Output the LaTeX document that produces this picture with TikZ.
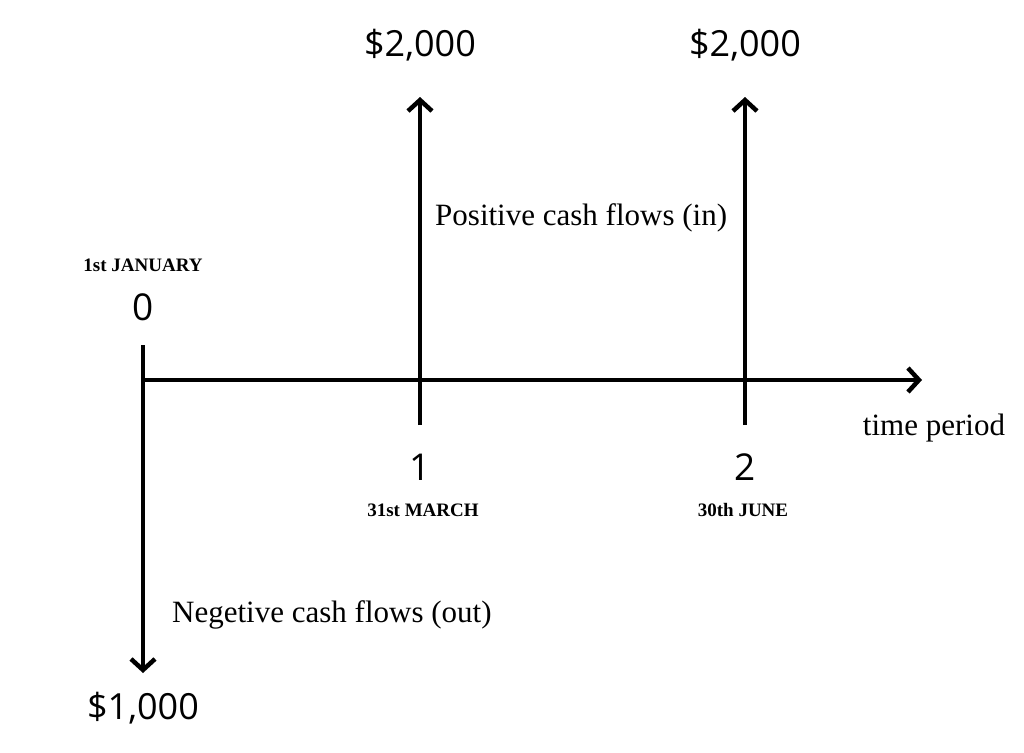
\documentclass[tikz,border=0pt]{standalone}
\usepackage{fontspec}
\setmainfont{Liberation Serif}
\newfontfamily\numfont{Open Sans}
\usetikzlibrary{arrows.meta}
\begin{document}
\begin{tikzpicture}[x=1pt,y=-1pt,
  flow/.style={line width=4.5pt,-{Straight Barb[length=11pt,width=24pt,line width=4.5pt]}},
  amount/.style={font=\numfont\fontsize{36}{40}\selectfont},
  period/.style={font=\numfont\fontsize{37}{40}\selectfont},
  datelbl/.style={font=\bfseries\fontsize{19}{22}\selectfont},
  note/.style={font=\fontsize{31}{34}\selectfont}]
\useasboundingbox (0,0) rectangle (1024,752);
%%
\coordinate (t0top) at (143,345);
\coordinate (t0) at (143,380);
\coordinate (t0bot) at (143,673);
\coordinate (axisend) at (922,380);
\coordinate (t1bot) at (420,425);
\coordinate (t1top) at (420,97);
\coordinate (t2bot) at (745,425);
\coordinate (t2top) at (745,97);
%%
\node (amt_1) at (420,45) [amount] {\$2,000};
\node (amt_2) at (745,45) [amount] {\$2,000};
\node (amt_0) at (143,708) [amount] {\$1,000};
\node (per_0) at (143,307) [period] {0};
\node (per_1) at (420,467) [period] {1};
\node (per_2) at (745,467) [period] {2};
\node (date_0) at (143,265) [datelbl] {1st JANUARY};
\node (date_1) at (423,510) [datelbl] {31st MARCH};
\node (date_2) at (743,510) [datelbl] {30th JUNE};
\node (axislbl) at (934,428) [note] {time period};
\node (inlbl) at (435,218) [note,anchor=west,inner sep=0pt] {Positive cash flows (in)};
\node (outlbl) at (172,615) [note,anchor=west,inner sep=0pt] {Negetive cash flows (out)};
%%
\draw [flow] (t0) -- (axisend);
\draw [flow] (t0top) -- (t0bot);
\draw [flow] (t1bot) -- (t1top);
\draw [flow] (t2bot) -- (t2top);
%
\end{tikzpicture}
\end{document}
